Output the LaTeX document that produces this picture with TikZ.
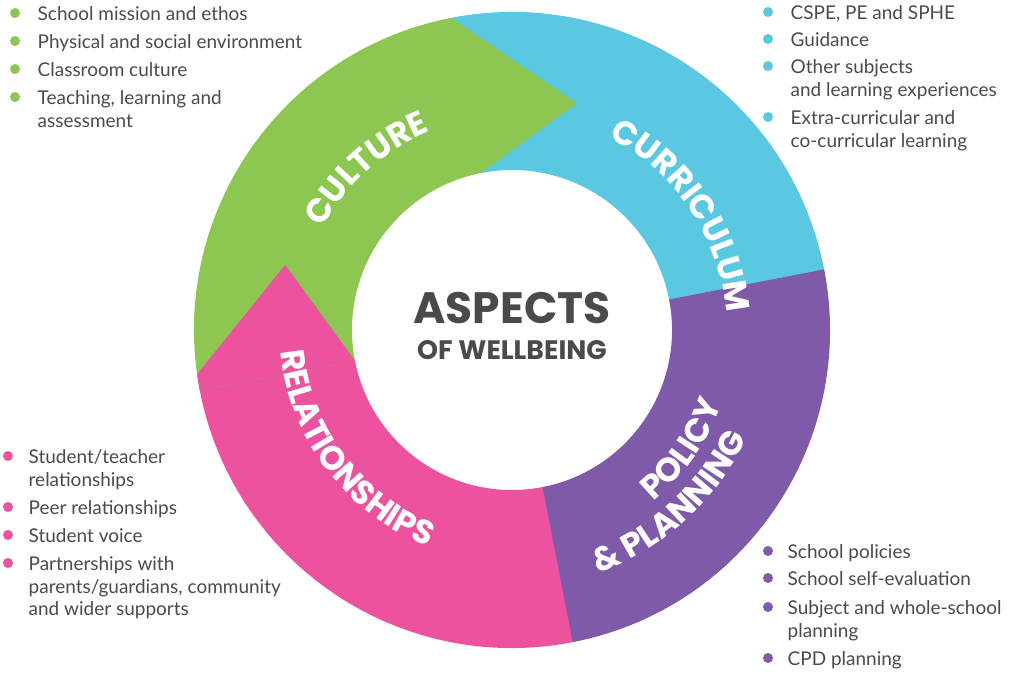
\documentclass[tikz,border=0pt]{standalone}
\usepackage{fontspec}
\setmainfont{Lato}
\newfontfamily\titlefont{Poppins}
\usetikzlibrary{decorations.text}
\definecolor{wbgreen}{HTML}{8DC651}
\definecolor{wbcyan}{HTML}{5BC8E2}
\definecolor{wbpurple}{HTML}{7F5AA8}
\definecolor{wbpink}{HTML}{EC529D}
\definecolor{wbgrey}{HTML}{4A4A4C}
\tikzset{
  itemtext/.style={anchor=north west, inner sep=0pt, align=left, text=wbgrey,
    font=\fontsize{5.4}{6.4}\selectfont},
  dot/.style={circle, fill=#1, inner sep=0pt, minimum size=0.1cm},
  bowtext/.style={decorate, decoration={text along path, text align=center,
    text color=white, text={|\titlefont\bfseries\fontsize{9.5}{9.5}\selectfont|#1}}}
}
% ring segment: colour, tail angle, shoulder angle
\newcommand{\ringseg}[3]{%
  \fill[#1] (#2:3.18) arc[start angle=#2, end angle=#3, radius=3.18]
    -- ({#3-27}:2.36) -- (#3:1.6)
    arc[start angle=#3, end angle=#2, radius=1.6] -- cycle;}
\begin{document}
\begin{tikzpicture}
	\useasboundingbox (0,0) rectangle (10.24,6.72);
	
	\begin{scope}[shift={(5.12,3.42)}]
	% the four arrows of the ring
	\ringseg{wbcyan}{101}{11}
	\ringseg{wbpurple}{11}{-79}
	\ringseg{wbpink}{281}{191}
	\ringseg{wbgreen}{191}{101}
	% pink head lies over the green tail
	\fill[wbpink] (191:3.18) arc[start angle=191, end angle=188, radius=3.18]
	  -- (164:2.36) -- (191:1.6) -- cycle;
	
	\path[bowtext={CULTURE}] (172:2.15) arc[start angle=172, end angle=92, radius=2.15];
	\path[bowtext={CURRICULUM}] (80:2.15) arc[start angle=80, end angle=-12, radius=2.15];
	\path[bowtext={RELATIONSHIPS}] (165:2.32) arc[start angle=165, end angle=269, radius=2.32];
	\path[bowtext={POLICY}] (-62:2.22) arc[start angle=-62, end angle=-8, radius=2.22];
	\path[bowtext={{\&} PLANNING}] (-80:2.58) arc[start angle=-80, end angle=-15, radius=2.58];
	
	\node[text=wbgrey, font=\titlefont\bfseries\fontsize{12.5}{12.5}\selectfont] (aspects) at (0,0.22) {ASPECTS};
	\node[text=wbgrey, font=\titlefont\bfseries\fontsize{7.6}{7.6}\selectfont] (wellbeing) at (0,-0.2) {OF WELLBEING};
	\end{scope}
	
	% culture list
	\foreach \n/\y/\t in {c1/13/{School mission and ethos}, c2/41/{Physical and social environment},
	    c3/69/{Classroom culture}, c4/97/{Teaching, learning and\\assessment}} {
	  \node[dot=wbgreen] (\n dot) at (0.15,{(672-\y)/100}) {};
	  \node[itemtext] (\n) at (0.37,{(679-\y)/100}) {\t};
	}
	% curriculum list
	\foreach \n/\y/\t in {k1/12/{CSPE, PE and SPHE}, k2/39/{Guidance},
	    k3/66/{Other subjects\\and learning experiences}, k4/117/{Extra-curricular and\\co-curricular learning}} {
	  \node[dot=wbcyan] (\n dot) at (7.68,{(672-\y)/100}) {};
	  \node[itemtext] (\n) at (7.90,{(679-\y)/100}) {\t};
	}
	% relationships list
	\foreach \n/\y/\t in {r1/456/{Student/teacher\\relationships}, r2/507/{Peer relationships},
	    r3/535/{Student voice}, r4/563/{Partnerships with\\parents/guardians, community\\and wider supports}} {
	  \node[dot=wbpink] (\n dot) at (0.08,{(672-\y)/100}) {};
	  \node[itemtext] (\n) at (0.28,{(679-\y)/100}) {\t};
	}
	% policy and planning list
	\foreach \n/\y/\t in {p1/551/{School policies}, p2/578/{School self-evaluation},
	    p3/607/{Subject and whole-school\\planning}, p4/658/{CPD planning}} {
	  \node[dot=wbpurple] (\n dot) at (7.68,{(672-\y)/100}) {};
	  \node[itemtext] (\n) at (7.87,{(679-\y)/100}) {\t};
	}
\end{tikzpicture}
\end{document}
